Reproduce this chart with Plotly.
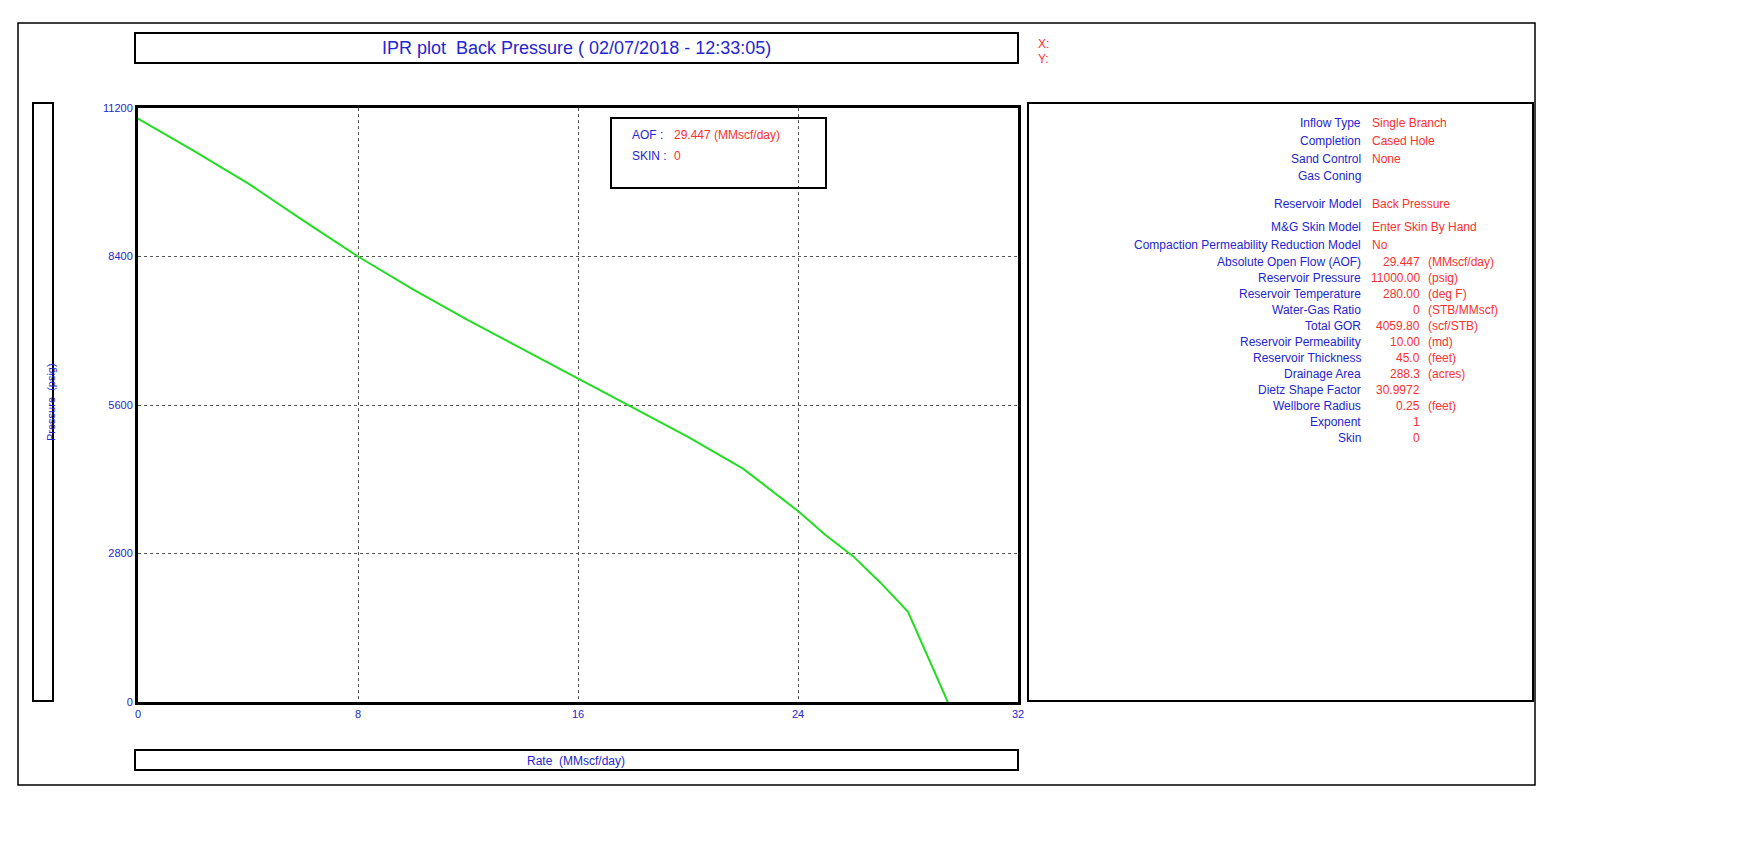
import plotly.graph_objects as go

rate = [0, 2, 4, 6, 8, 10, 12, 14, 16, 18, 20, 22, 24, 25, 26, 27, 28, 29.447]
pressure = [11000, 10400, 9780, 9080, 8400, 7780, 7200, 6650, 6100, 5560, 5000, 4400, 3600, 3150, 2750, 2250, 1700, 0]
x_ticks = [0, 8, 16, 24, 32]
y_ticks = [0, 2800, 5600, 8400, 11200]
y_tick_text = ["0", "2800", "5600", "8400", "11200"]

labels = ["Inflow Type", "Completion", "Sand Control", "Gas Coning", "Reservoir Model", "M&G Skin Model",
          "Compaction Permeability Reduction Model", "Absolute Open Flow (AOF)", "Reservoir Pressure",
          "Reservoir Temperature", "Water-Gas Ratio", "Total GOR", "Reservoir Permeability",
          "Reservoir Thickness", "Drainage Area", "Dietz Shape Factor", "Wellbore Radius", "Exponent", "Skin"]
text_vals = ["Single Branch", "Cased Hole", "None", "", "Back Pressure", "Enter Skin By Hand", "No"] + [""] * 12
num_vals = [""] * 7 + ["29.447", "11000.00", "280.00", "0", "4059.80", "10.00", "45.0", "288.3", "30.9972", "0.25", "1", "0"]
units = [""] * 7 + ["(MMscf/day)", "(psig)", "(deg F)", "(STB/MMscf)", "(scf/STB)", "(md)", "(feet)", "(acres)", "", "(feet)", "", ""]
row_y = [115, 133, 151, 168, 196, 219, 237, 254, 270, 286, 302, 318, 334, 350, 366, 382, 398, 414, 430]

W, H = 1737, 861
L, R, T, B = 130, 1010, 100, 694
def px(X): return (X - L) / (R - L)
def py(Y): return (B - Y) / (B - T)

BLUE = "#2525d0"
RED = "#ff3030"
FONT = "Liberation Sans, Arial"

fig = go.Figure(go.Scatter(x=rate, y=pressure, mode="lines", line=dict(color="#22dd22", width=2), hoverinfo="skip"))

shapes = []
def rect(x0, y0, x1, y1, w=2):
    shapes.append(dict(type="rect", xref="paper", yref="paper", x0=px(x0), x1=px(x1), y0=py(y1), y1=py(y0),
                       line=dict(color="black", width=w), fillcolor="rgba(0,0,0,0)", layer="above"))
rect(10, 15, 1527, 777, 1.5)
rect(127, 25, 1010, 55)
rect(25, 95, 45, 693)
rect(1020, 95, 1525, 693)
rect(127, 742, 1010, 762)
rect(603, 110, 818, 180)

ann = []
def txt(X, Y, s, color=BLUE, anchor="left", size=12):
    ann.append(dict(x=px(X), y=py(Y), xref="paper", yref="paper", text=s, showarrow=False,
                    xanchor=anchor, yanchor="middle", font=dict(color=color, size=size, family=FONT)))
txt(568, 40, "IPR plot  Back Pressure ( 02/07/2018 - 12:33:05)", anchor="center", size=18)
txt(568, 753, "Rate  (MMscf/day)", anchor="center")
txt(1028, 36, "X:", RED)
txt(1028, 51, "Y:", RED)
txt(622, 127, "AOF :")
txt(664, 127, "29.447 (MMscf/day)", RED)
txt(622, 148, "SKIN :")
txt(664, 148, "0", RED)
ann.append(dict(x=px(35), y=py(394), xref="paper", yref="paper", text="Pressure  (psig)", showarrow=False,
                textangle=-90, font=dict(color=BLUE, size=11, family=FONT)))
for lab, tv, nv, u, y in zip(labels, text_vals, num_vals, units, row_y):
    txt(1355, y, lab, anchor="right")
    if tv:
        txt(1362, y, tv, RED)
    if nv:
        txt(1414, y, nv, RED, anchor="right")
    if u:
        txt(1418, y, u, RED)

fig.update_layout(
    width=W, height=H, paper_bgcolor="white", plot_bgcolor="white", showlegend=False,
    margin=dict(l=L, r=W - R, t=T, b=H - B, pad=0),
    xaxis=dict(range=[0, 32], tickvals=x_ticks, showgrid=True, gridcolor="#555", griddash="dot",
               zeroline=False, showline=True, linecolor="black", linewidth=3, mirror=True,
               ticks="", tickfont=dict(color=BLUE, size=11, family=FONT)),
    yaxis=dict(range=[0, 11200], tickvals=y_ticks, ticktext=y_tick_text, showgrid=True, gridcolor="#555",
               griddash="dot", zeroline=False, showline=True, linecolor="black", linewidth=3, mirror=True,
               ticks="", tickfont=dict(color=BLUE, size=11, family=FONT)),
    shapes=shapes, annotations=ann,
)
fig.write_html("out.html")
